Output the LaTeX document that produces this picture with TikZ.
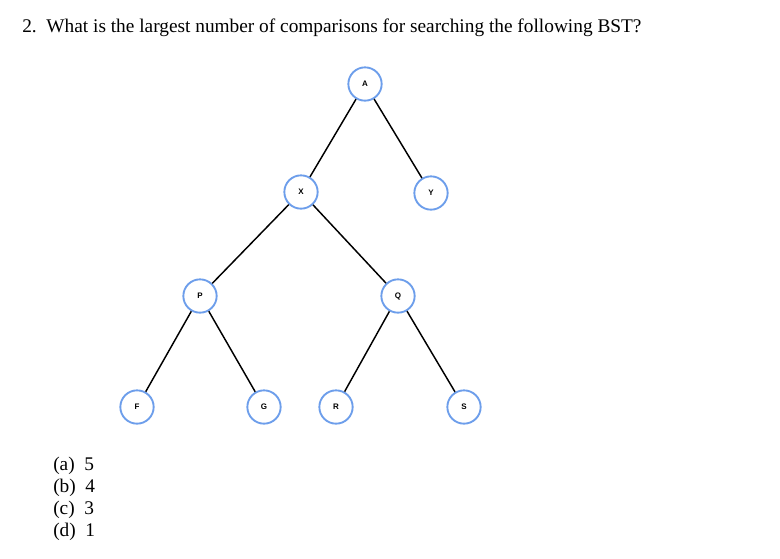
\documentclass[tikz,border=0pt]{standalone}
\usepackage{fontspec}
\setmainfont{Liberation Serif}
\newfontfamily\nodefont{Liberation Sans}
\begin{document}
\begin{tikzpicture}[x=0.75pt,y=-0.75pt,
  bst/.style={circle,draw={rgb,255:red,109;green,158;blue,235},line width=1.4pt,fill=white,minimum size=25pt,inner sep=0pt,font=\nodefont\bfseries\fontsize{6}{7}\selectfont},
  edge/.style={line width=1.1pt,black},
  txt/.style={anchor=west,inner sep=0pt,font=\fontsize{14.5}{16}\selectfont}]
\useasboundingbox (0,0) rectangle (780,558);
\node[txt] (q) at (22,28) {2.\ \ What is the largest number of comparisons for searching the following BST?};
\node[bst] (A) at (365,84) {A};
\node[bst] (X) at (301,192) {X};
\node[bst] (Y) at (431,193) {Y};
\node[bst] (P) at (200,296) {P};
\node[bst] (Q) at (398,296) {Q};
\node[bst] (F) at (137,407) {F};
\node[bst] (G) at (264,407) {G};
\node[bst] (R) at (336,407) {R};
\node[bst] (S) at (464,407) {S};
\draw[edge] (A)--(X) (A)--(Y) (X)--(P) (X)--(Q) (P)--(F) (P)--(G) (Q)--(R) (Q)--(S);
\node[txt] (a) at (53,466) {(a)\ \ 5};
\node[txt] (b) at (53,488) {(b)\ \ 4};
\node[txt] (c) at (53,510) {(c)\ \ 3};
\node[txt] (d) at (53,532) {(d)\ \ 1};
\end{tikzpicture}
\end{document}
